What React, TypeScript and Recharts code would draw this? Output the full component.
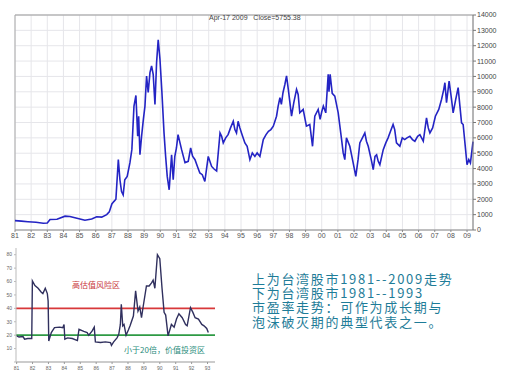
import { LineChart, Line, XAxis, YAxis, CartesianGrid, ReferenceLine } from "recharts"

// Taiwan weighted index 1981-2009
const indexYears = [
  1981.0, 1981.4, 1981.8, 1982.3, 1982.75, 1983.0, 1983.17, 1983.6, 1984.1, 1984.4,
  1985.33, 1985.75, 1986.06, 1986.37, 1986.68, 1986.84, 1987.0, 1987.12, 1987.25, 1987.4,
  1987.5, 1987.6, 1987.7, 1987.8, 1987.95, 1988.12, 1988.24, 1988.37, 1988.49, 1988.6,
  1988.66, 1988.74, 1988.84, 1988.95, 1989.05, 1989.15, 1989.25, 1989.36, 1989.46, 1989.56,
  1989.67, 1989.77, 1989.87, 1989.98, 1990.1, 1990.23, 1990.33, 1990.43, 1990.55, 1990.7,
  1990.8, 1990.9, 1991.0, 1991.1, 1991.32, 1991.53, 1991.73, 1991.88, 1992.0, 1992.15,
  1992.3, 1992.45, 1992.6, 1992.76, 1992.97, 1993.18, 1993.33, 1993.49, 1993.7, 1993.8,
  1993.9, 1994.05, 1994.2, 1994.35, 1994.52, 1994.62, 1994.72, 1994.82, 1994.93, 1995.03,
  1995.24, 1995.38, 1995.55, 1995.7, 1995.86, 1996.0, 1996.17, 1996.38, 1996.55, 1996.7,
  1996.85, 1997.0, 1997.2, 1997.3, 1997.41, 1997.5, 1997.6, 1997.72, 1997.82, 1997.93,
  1998.03, 1998.13, 1998.27, 1998.44, 1998.54, 1998.64, 1998.85, 1999.05, 1999.26, 1999.43,
  1999.57, 1999.78, 1999.9, 2000.0, 2000.1, 2000.25, 2000.4, 2000.45, 2000.52, 2000.65,
  2000.81, 2001.02, 2001.23, 2001.33, 2001.43, 2001.53, 2001.74, 2001.95, 2002.11, 2002.25,
  2002.36, 2002.52, 2002.67, 2002.77, 2002.88, 2003.09, 2003.19, 2003.3, 2003.4, 2003.5,
  2003.6, 2003.81, 2003.97, 2004.11, 2004.26, 2004.42, 2004.52, 2004.63, 2004.84, 2004.99,
  2005.14, 2005.28, 2005.46, 2005.62, 2005.77, 2005.94, 2006.08, 2006.29, 2006.49, 2006.6,
  2006.7, 2006.87, 2007.04, 2007.25, 2007.42, 2007.56, 2007.63, 2007.73, 2007.89, 2008.04,
  2008.14, 2008.3, 2008.45, 2008.56, 2008.66, 2008.76, 2008.87, 2009.0, 2009.11, 2009.21,
  2009.31, 2009.37,
]
const indexValues = [
  610, 580, 540, 500, 440, 450, 680, 700, 900, 880,
  640, 720, 860, 840, 1000, 1180, 1700, 1850, 2000, 4580,
  3270, 2500, 2290, 3270, 3490, 4380, 5250, 8070, 8760, 6100,
  7410, 4900, 6100, 7190, 8070, 10030, 8960, 10250, 10680, 10140,
  8175, 10900, 12380, 11120, 8960, 6340, 4800, 3490, 2620, 4900,
  3270, 4800, 5340, 6210, 5230, 4380, 4470, 5340, 4800, 4580,
  4140, 3710, 3600, 3160, 4790, 4140, 3970, 3840, 6320, 6100,
  5670, 6000, 6210, 6650, 7080, 6540, 6320, 7080, 6650, 6320,
  5670, 5450, 4580, 5020, 4790, 5020, 4790, 5890, 6210, 6430,
  6540, 6760, 7410, 8070, 8610, 8180, 8940, 9490, 10030, 9160,
  8290, 7410, 8290, 9160, 8830, 7630, 7850, 6760, 6870, 5450,
  7410, 7850, 7200, 7700, 8070, 7630, 10140, 9000, 10140, 8900,
  8720, 7630, 5890, 5020, 4580, 6000, 5450, 4360, 3490, 4580,
  5670, 6000, 6320, 5780, 5450, 4470, 3930, 4790, 4900, 4470,
  4250, 5230, 5670, 6000, 6430, 6870, 6540, 5670, 5450, 6000,
  5890, 6000, 6100, 5890, 5780, 6100, 6210, 5780, 7300, 6650,
  6320, 6650, 7410, 7850, 8500, 9160, 9590, 8290, 9700, 8500,
  7630, 8500, 9270, 8070, 6980, 6870, 5670, 4250, 4580, 4360,
  5230, 5755,
]
const yearTicks = [
  1981, 1982, 1983, 1984, 1985, 1986, 1987, 1988, 1989, 1990, 1991, 1992, 1993, 1994, 1995,
  1996, 1997, 1998, 1999, 2000, 2001, 2002, 2003, 2004, 2005, 2006, 2007, 2008, 2009,
]
const valueTicks = [0, 1000, 2000, 3000, 4000, 5000, 6000, 7000, 8000, 9000, 10000, 11000, 12000, 13000, 14000]

// P/E ratio 1981-1993
const peYears = [
  1981.0, 1981.15, 1981.4, 1981.5, 1981.7, 1981.95, 1981.99, 1982.15, 1982.35, 1982.55,
  1982.65, 1982.8, 1982.93, 1982.98, 1983.02, 1983.18, 1983.38, 1983.7, 1983.9, 1983.98,
  1984.03, 1984.2, 1984.5, 1984.82, 1984.92, 1985.22, 1985.43, 1985.53, 1985.74, 1985.88,
  1985.95, 1986.27, 1986.58, 1986.9, 1986.96, 1987.1, 1987.31, 1987.42, 1987.52, 1987.58,
  1987.67, 1987.75, 1987.88, 1988.03, 1988.13, 1988.34, 1988.48, 1988.63, 1988.74, 1988.85,
  1988.95, 1989.16, 1989.33, 1989.48, 1989.58, 1989.69, 1989.85, 1990.0, 1990.14, 1990.27,
  1990.37, 1990.52, 1990.73, 1990.9, 1991.05, 1991.2, 1991.41, 1991.62, 1991.72, 1991.93,
  1992.08, 1992.22, 1992.43, 1992.64, 1992.78, 1992.95, 1993.05,
]
const peValues = [
  19.5, 18.6, 19, 17, 17.5, 17.5, 60.4, 57, 55, 52,
  51, 55, 51, 45.5, 15.7, 21.9, 25.6, 26, 25.5, 28,
  17, 18, 17.5, 16, 24.4, 22.8, 22, 20, 23, 26,
  15, 14.5, 15, 14.5, 12.4, 15, 18, 20.6, 28, 43,
  27, 28, 20, 24, 27, 34.3, 53, 38, 41, 33,
  41, 56.7, 56.7, 59, 61, 55, 80, 77, 55, 37,
  35, 19.5, 28, 26, 32, 36, 33, 28, 27, 40.5,
  37, 33, 32, 28, 27, 25, 22,
]
const peTicks = [0, 10, 20, 30, 40, 50, 60, 70, 80]
const peYearTicks = [1981, 1982, 1983, 1984, 1985, 1986, 1987, 1988, 1989, 1990, 1991, 1992, 1993]

const noteLines = [
  "上为台湾股市1981--2009走势",
  "下为台湾股市1981--1993",
  "市盈率走势：可作为成长期与",
  "泡沫破灭期的典型代表之一。",
]

const indexData = indexYears.map((t, i) => ({ t, v: indexValues[i] }))
const peData = peYears.map((t, i) => ({ t, pe: peValues[i] }))

const yy = (y: number) => String(y % 100).padStart(2, "0")
const axisFont = "Liberation Sans, Arial, sans-serif"
const cjkFont = "'Noto Sans CJK SC', sans-serif"

export default function App() {
  return (
    <div style={{ position: "absolute", left: 0, top: 0, width: 518, height: 376, background: "#fff", overflow: "hidden" }}>
      <div style={{ position: "absolute", left: 0, top: 0 }}>
        <LineChart width={518} height={245} data={indexData} margin={{ top: 15, right: 0, bottom: 0, left: 15 }}>
          <CartesianGrid stroke="#e6e6ea" strokeWidth={1} />
          <XAxis
            dataKey="t"
            type="number"
            domain={[1981, 2009.37]}
            ticks={yearTicks}
            tickFormatter={yy}
            interval={0}
            height={15}
            tickSize={2}
            tickMargin={1}
            stroke="#888"
            tick={{ fontSize: 7, fill: "#555", fontFamily: axisFont }}
          />
          <YAxis
            orientation="right"
            type="number"
            domain={[0, 14000]}
            ticks={valueTicks}
            interval={0}
            width={45}
            tickSize={3}
            tickMargin={1}
            stroke="#777"
            tick={{ fontSize: 7, fill: "#444", fontFamily: axisFont, textAnchor: "start" }}
          />
          <ReferenceLine y={14000} stroke="#999" strokeWidth={1.2} />
          <ReferenceLine x={1981} stroke="#aaa" strokeWidth={1} />
          <Line
            dataKey="v"
            stroke="#2424c4"
            strokeWidth={1.6}
            dot={false}
            isAnimationActive={false}
          />
        </LineChart>
      </div>
      <div style={{ position: "absolute", left: 209, top: 14, fontSize: 7, color: "#444", fontFamily: axisFont, whiteSpace: "pre" }}>
        {"Apr-17 2009   Close=5755.38"}
      </div>

      <div style={{ position: "absolute", left: 0, top: 240 }}>
        <LineChart width={230} height={136} data={peData} margin={{ top: 8, right: 15, bottom: 0, left: 0 }}>
          <XAxis
            dataKey="t"
            type="number"
            domain={[1980.96, 1993.47]}
            ticks={peYearTicks}
            tickFormatter={yy}
            interval={0}
            height={14}
            tickSize={2}
            tickMargin={2}
            stroke="#999"
            tick={{ fontSize: 5, fill: "#666", fontFamily: axisFont }}
          />
          <YAxis
            type="number"
            domain={[0, 85]}
            ticks={peTicks}
            interval={0}
            width={16}
            tickSize={2}
            tickMargin={2}
            stroke="#bbb"
            tickFormatter={(v: number) => (v === 0 ? "" : String(v))}
            tick={{ fontSize: 5, fill: "#666", fontFamily: axisFont }}
          />
          <ReferenceLine y={40} stroke="#d8383a" strokeWidth={1.8} />
          <ReferenceLine y={20} stroke="#2e9a44" strokeWidth={1.8} />
          <Line
            dataKey="pe"
            stroke="#30305e"
            strokeWidth={1.4}
            dot={false}
            isAnimationActive={false}
          />
        </LineChart>
      </div>
      <div style={{ position: "absolute", left: 72, top: 280, fontSize: 8, color: "#c8383a", fontFamily: cjkFont, lineHeight: "10px", whiteSpace: "nowrap" }}>
        高估值风险区
      </div>
      <div style={{ position: "absolute", left: 124, top: 345, fontSize: 8, color: "#2a8c7c", fontFamily: cjkFont, lineHeight: "10px", whiteSpace: "nowrap" }}>
        小于20倍，价值投资区
      </div>

      <div style={{ position: "absolute", left: 252, top: 272, fontSize: 13, lineHeight: "14.2px", letterSpacing: 1.7, color: "#1e7c98", fontFamily: cjkFont, whiteSpace: "nowrap" }}>
        {noteLines.map((l, i) => (
          <div key={i}>{l}</div>
        ))}
      </div>
    </div>
  )
}
